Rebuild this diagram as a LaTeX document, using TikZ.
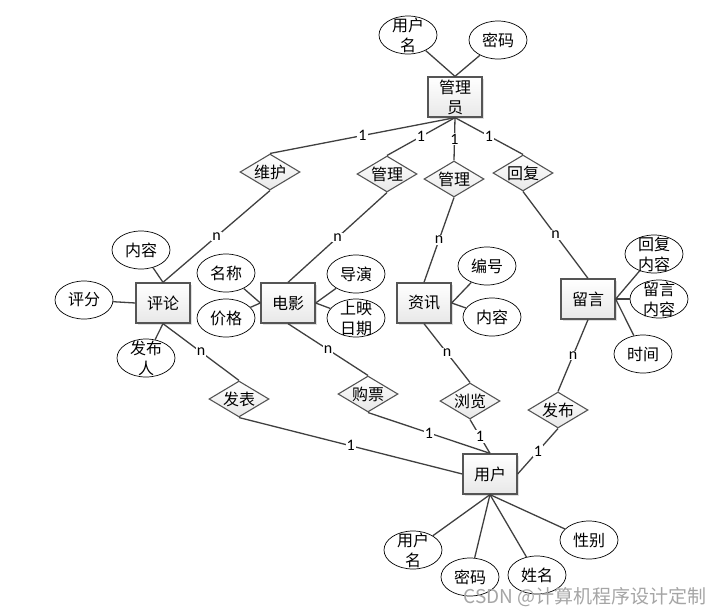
\documentclass[tikz,border=0pt]{standalone}
\usepackage{fontspec}
\setmainfont{Carlito}
\newfontfamily\cjk{Noto Sans CJK SC}
\usetikzlibrary{shapes.geometric,shadows}
\definecolor{linegray}{RGB}{64,64,64}
\definecolor{boxedge}{RGB}{85,85,85}
\definecolor{markgray}{RGB}{165,165,165}

\begin{document}
\begin{tikzpicture}[
  x=1pt,y=-1pt,
  font=\cjk\fontsize{16}{20}\selectfont,
  entity/.style={draw=boxedge,line width=1.3pt,top color=white,bottom color=gray!18,minimum width=54pt,minimum height=40pt,inner sep=0pt,align=center,drop shadow={shadow xshift=2pt,shadow yshift=-2pt,opacity=0.25}},
  rel/.style={diamond,draw=boxedge,line width=1.1pt,top color=white,bottom color=gray!18,minimum width=60pt,minimum height=36pt,aspect=1.7,inner sep=0pt},
  attr/.style={ellipse,draw=black,line width=0.7pt,fill=white,minimum width=58pt,minimum height=38pt,inner sep=0pt},
  attr2/.style={attr,align=center,inner ysep=-7pt},
  conn/.style={draw=linegray,line width=1.3pt},
  card/.style={font=\normalfont\fontsize{16}{16}\selectfont,fill=white,inner sep=1pt},
]
\useasboundingbox (0,0) rectangle (726,616);

% 实体
\node[entity] (admin) at (455,97) {管理\\员};
\node[entity] (comment) at (163,303) {评论};
\node[entity] (movie) at (288,303) {电影};
\node[entity] (news) at (424,303) {资讯};
\node[entity] (msg) at (588,299) {留言};
\node[entity] (user) at (490,474) {用户};

% 联系
\node[rel] (weihu) at (270,172) {维护};
\node[rel] (manmovie) at (387,174) {管理};
\node[rel] (mannews) at (454,179) {管理};
\node[rel] (reply) at (523,173) {回复};
\node[rel] (publish) at (239,399) {发表};
\node[rel] (buy) at (368,394) {购票};
\node[rel] (browse) at (470,401) {浏览};
\node[rel] (post) at (558,410) {发布};

% 属性
\node[attr2] (adminname) at (408,35) {用户\\名};
\node[attr] (adminpwd) at (498,40) {密码};
\node[attr] (ccontent) at (141,250) {内容};
\node[attr] (cscore) at (84,300) {评分};
\node[attr2] (cauthor) at (146,358) {发布\\人};
\node[attr] (mname) at (226,273) {名称};
\node[attr] (mprice) at (226,318) {价格};
\node[attr] (mdirector) at (356,274) {导演};
\node[attr2] (mdate) at (356,318) {上映\\日期};
\node[attr] (nid) at (487,266) {编号};
\node[attr] (ncontent) at (492,317) {内容};
\node[attr2] (mreply) at (654,254) {回复\\内容};
\node[attr2] (mtext) at (659,299) {留言\\内容};
\node[attr] (mtime) at (643,354) {时间};
\node[attr2] (uname) at (413,550) {用户\\名};
\node[attr] (upwd) at (470,577) {密码};
\node[attr] (urealname) at (537,575) {姓名};
\node[attr] (usex) at (589,540) {性别};

% 属性连线
\draw[conn] (adminname) -- (admin.north);
\draw[conn] (adminpwd) -- (admin.north);
\draw[conn] (ccontent) -- (comment.north);
\draw[conn] (cscore) -- (comment.west);
\draw[conn] (cauthor) -- (comment.south);
\draw[conn] (mname) -- (movie.west);
\draw[conn] (mprice) -- (movie.west);
\draw[conn] (mdirector) -- (movie.east);
\draw[conn] (mdate) -- (movie.east);
\draw[conn] (nid) -- (news.east);
\draw[conn] (ncontent) -- (news.east);
\draw[conn] (mreply) -- (msg.east);
\draw[conn] (mtext) -- (msg.east);
\draw[conn] (mtime) -- (msg.east);
\draw[conn] (uname) -- (user.south);
\draw[conn] (upwd) -- (user.south);
\draw[conn] (urealname) -- (user.south);
\draw[conn] (usex) -- (user.south);

% 联系连线
\draw[conn] (admin.south) -- node[card]{1} (weihu.north);
\draw[conn] (admin.south) -- node[card]{1} (manmovie.north);
\draw[conn] (admin.south) -- node[card]{1} (mannews.north);
\draw[conn] (admin.south) -- node[card]{1} (reply.north);
\draw[conn] (weihu.south) -- node[card]{n} (comment.north);
\draw[conn] (manmovie.south) -- node[card]{n} (movie.north);
\draw[conn] (mannews.south) -- node[card]{n} (news.north);
\draw[conn] (reply.south) -- node[card]{n} (msg.north);
\draw[conn] (comment.south) -- node[card]{n} (publish.north);
\draw[conn] (movie.south) -- node[card]{n} (buy.north);
\draw[conn] (news.south) -- node[card]{n} (browse.north);
\draw[conn] (msg.south) -- node[card]{n} (post.north);
\draw[conn] (publish.south) -- node[card]{1} (user.west);
\draw[conn] (buy.south) -- node[card]{1} (user.north);
\draw[conn] (browse.south) -- node[card]{1} (user.north);
\draw[conn] (post.south) -- node[card]{1} (user.east);

% 水印
\node[text=markgray,font=\cjk\fontsize{19}{19}\selectfont] (watermark) at (585,597) {CSDN @计算机程序设计定制};
\end{tikzpicture}
\end{document}
